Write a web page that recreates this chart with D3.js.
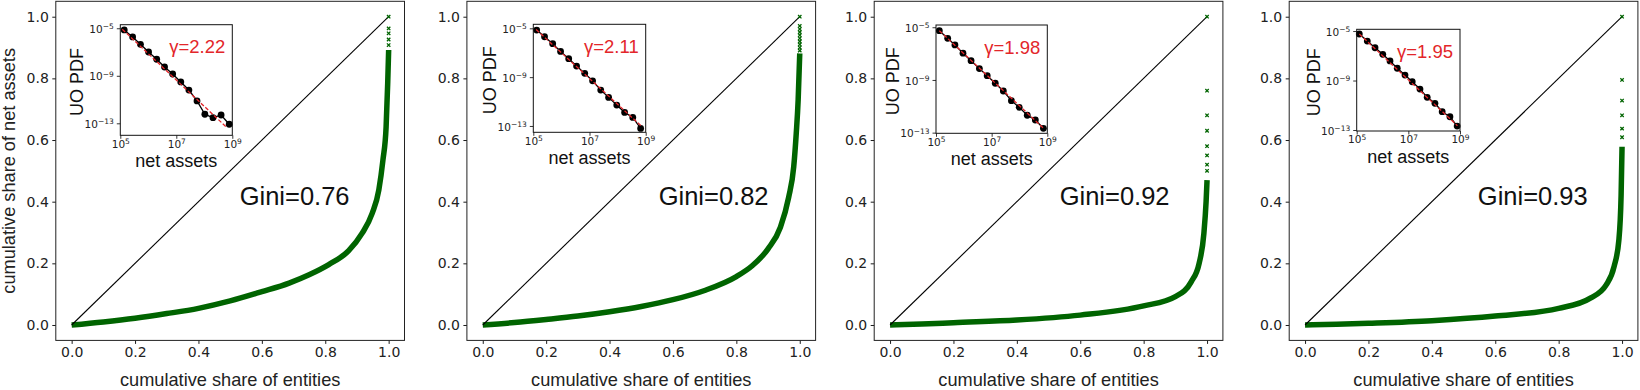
<!DOCTYPE html>
<html><head><meta charset="utf-8">
<script src="https://cdn.jsdelivr.net/npm/d3@7"></script>
<style>body{margin:0;background:#fff} svg{display:block}</style>
</head><body><svg id="c" width="1640" height="390"></svg>
<script>
// ---------------- data ----------------
const giniValues = [0.76, 0.82, 0.92, 0.93];
const gammaValues = [2.22, 2.11, 1.98, 1.95];

// Lorenz curves (cumulative share of entities -> cumulative share of net assets)
const lorenzX1 = [0, 0.1, 0.2, 0.3, 0.4, 0.5, 0.6, 0.686, 0.749, 0.811, 0.874, 0.916, 0.948, 0.969, 0.982, 0.992, 0.997, 1.0];
const lorenzY1 = [0, 0.010, 0.022, 0.037, 0.054, 0.078, 0.108, 0.136, 0.163, 0.196, 0.241, 0.297, 0.362, 0.438, 0.535, 0.643, 0.784, 0.892];
const lorenzX2 = [0, 0.1, 0.2, 0.3, 0.4, 0.5, 0.6, 0.7, 0.8, 0.85, 0.9, 0.939, 0.965, 0.981, 0.989, 0.995, 1.0];
const lorenzY2 = [0, 0.008, 0.018, 0.029, 0.043, 0.060, 0.082, 0.112, 0.157, 0.192, 0.247, 0.317, 0.414, 0.513, 0.622, 0.730, 0.881];
const lorenzX3 = [0, 0.1, 0.2, 0.4, 0.6, 0.8, 0.9, 0.95, 0.975, 0.99, 0.997, 1.0];
const lorenzY3 = [0, 0.003, 0.0075, 0.016, 0.032, 0.062, 0.092, 0.140, 0.200, 0.297, 0.400, 0.470];
const lorenzX4 = [0, 0.1, 0.2, 0.4, 0.6, 0.8, 0.9, 0.95, 0.975, 0.99, 0.997, 1.0];
const lorenzY4 = [0, 0.002, 0.0054, 0.014, 0.029, 0.054, 0.087, 0.130, 0.190, 0.276, 0.420, 0.578];

// isolated top-most entities (all at x = 1)
const topY1 = [0.908, 0.926, 0.946, 0.962, 1.0];
const topY2 = [0.89, 0.90, 0.91, 0.92, 0.93, 0.94, 0.95, 0.96, 0.97, 1.0];
const topY3 = [0.50, 0.52, 0.55, 0.58, 0.63, 0.68, 0.76, 1.0];
const topY4 = [0.609, 0.637, 0.68, 0.728, 0.795, 1.0];

// inset: UO PDF of net assets (log10 values)
const pdfLogX1 = [5.14, 5.44, 5.72, 6.01, 6.30, 6.58, 6.87, 7.16, 7.45, 7.74, 8.02, 8.31, 8.60, 8.89];
const pdfLogY1 = [-5.14, -5.73, -6.35, -7.00, -7.61, -8.26, -8.85, -9.52, -10.20, -11.12, -12.24, -12.53, -12.30, -13.08];
const pdfLogX2 = [5.12, 5.40, 5.69, 5.97, 6.26, 6.54, 6.83, 7.11, 7.40, 7.68, 7.97, 8.25, 8.54, 8.82];
const pdfLogY2 = [-5.14, -5.69, -6.26, -6.89, -7.49, -8.09, -8.69, -9.30, -10.06, -10.66, -11.29, -11.89, -12.30, -13.20];
const pdfLogX3 = [5.12, 5.42, 5.68, 5.97, 6.26, 6.56, 6.84, 7.13, 7.42, 7.71, 7.99, 8.28, 8.57, 8.86];
const pdfLogY3 = [-5.26, -5.84, -6.34, -6.97, -7.54, -8.14, -8.68, -9.25, -9.84, -10.57, -11.08, -11.68, -12.04, -12.67];
const pdfLogX4 = [5.10, 5.41, 5.71, 6.01, 6.29, 6.57, 6.87, 7.15, 7.45, 7.73, 8.03, 8.31, 8.61, 8.89];
const pdfLogY4 = [-5.24, -5.81, -6.35, -6.88, -7.42, -8.01, -8.56, -9.10, -9.69, -10.36, -10.84, -11.52, -11.93, -12.68];

// power-law fit lines (log10 endpoints)
const fitLogX1 = [5.07, 8.81], fitLogY1 = [-5.08, -13.37];
const fitLogX2 = [5.10, 8.85], fitLogY2 = [-5.10, -13.02];
const fitLogX3 = [5.12, 8.88], fitLogY3 = [-5.26, -12.70];
const fitLogX4 = [5.10, 8.90], fitLogY4 = [-5.24, -12.65];

const mainTicks = [0, 0.2, 0.4, 0.6, 0.8, 1.0];
const insetXTicks = [5, 7, 9];     // exponents
const insetYTicks = [-5, -9, -13]; // exponents

const xLabel = "cumulative share of entities";
const yLabel = "cumulative share of net assets";
const insetXLabel = "net assets";
const insetYLabel = "UO PDF";

// ---------------- layout ----------------
const layout = [
  {left: 55.8,  inset: {l: 120.3, t: 24.7, r: 232.3, b: 135.3, ylim: [-14.01, -4.70]}, giniX: 0.53},
  {left: 466.9, inset: {l: 533.3, t: 24.3, r: 645.7, b: 132.3, ylim: [-13.52, -4.67]}, giniX: 0.555},
  {left: 874.2, inset: {l: 936.0, t: 25.0, r: 1047.3, b: 133.3, ylim: [-13.05, -4.83]}, giniX: 0.535},
  {left: 1289.2, inset: {l: 1356.7, t: 29.3, r: 1460.0, b: 131.0, ylim: [-13.08, -4.86]}, giniX: 0.545},
];
const boxW = 348.7, boxTop = 1.3, boxBottom = 340.4;
const GREEN = "#006400", RED = "#e3262a";
const sans = "'Liberation Sans', Arial, sans-serif";
const dejavu = "'DejaVu Sans', sans-serif";

const series = [
  {lx: lorenzX1, ly: lorenzY1, top: topY1, px: pdfLogX1, py: pdfLogY1, fx: fitLogX1, fy: fitLogY1},
  {lx: lorenzX2, ly: lorenzY2, top: topY2, px: pdfLogX2, py: pdfLogY2, fx: fitLogX2, fy: fitLogY2},
  {lx: lorenzX3, ly: lorenzY3, top: topY3, px: pdfLogX3, py: pdfLogY3, fx: fitLogX3, fy: fitLogY3},
  {lx: lorenzX4, ly: lorenzY4, top: topY4, px: pdfLogX4, py: pdfLogY4, fx: fitLogX4, fy: fitLogY4},
];

const svg = d3.select("#c");
const supMinus = v => (v < 0 ? "\u2212" + Math.abs(v) : String(v));

series.forEach((s, i) => {
  const L = layout[i];
  const g = svg.append("g");
  const x = d3.scaleLinear().domain([-0.05, 1.05]).range([L.left, L.left + boxW]);
  const y = d3.scaleLinear().domain([-0.05, 1.05]).range([boxBottom, boxTop]);

  // Lorenz curve band
  const pts = s.lx.map((v, k) => [v, s.ly[k]]);
  g.append("path")
    .attr("d", d3.line().x(d => x(d[0])).y(d => y(d[1])).curve(d3.curveMonotoneX)(pts))
    .attr("fill", "none").attr("stroke", GREEN).attr("stroke-width", 5.5)
    .attr("stroke-linejoin", "round");

  // equality line
  g.append("line")
    .attr("x1", x(0)).attr("y1", y(0)).attr("x2", x(1)).attr("y2", y(1))
    .attr("stroke", "#000").attr("stroke-width", 1.1);

  // isolated top entities (x markers)
  const m = 1.7;
  s.top.forEach(v => {
    const cx = x(1), cy = y(v);
    g.append("path")
      .attr("d", `M${cx - m},${cy - m}L${cx + m},${cy + m}M${cx - m},${cy + m}L${cx + m},${cy - m}`)
      .attr("stroke", GREEN).attr("stroke-width", 1.3).attr("fill", "none");
  });

  // axes
  const xa = g.append("g").attr("transform", `translate(0,${boxBottom})`)
    .call(d3.axisBottom(x).tickValues(mainTicks).tickSize(3.5).tickPadding(3.5).tickFormat(d3.format(".1f")));
  const ya = g.append("g").attr("transform", `translate(${L.left},0)`)
    .call(d3.axisLeft(y).tickValues(mainTicks).tickSize(3.5).tickPadding(3.5).tickFormat(d3.format(".1f")));
  [xa, ya].forEach(a => {
    a.select(".domain").remove();
    a.selectAll("line").attr("stroke", "#000").attr("stroke-width", 0.9);
    a.selectAll("text").attr("font-family", dejavu).attr("font-size", 14).attr("fill", "#222");
  });
  g.append("rect").attr("x", L.left).attr("y", boxTop).attr("width", boxW).attr("height", boxBottom - boxTop)
    .attr("fill", "none").attr("stroke", "#222").attr("stroke-width", 1);

  // axis labels
  g.append("text").attr("x", L.left + boxW / 2).attr("y", 386).attr("text-anchor", "middle")
    .attr("font-family", sans).attr("font-size", 18.2).attr("fill", "#222").text(xLabel);
  if (i === 0) {
    g.append("text").attr("transform", `translate(15,${(boxTop + boxBottom) / 2}) rotate(-90)`)
      .attr("text-anchor", "middle").attr("font-family", sans).attr("font-size", 18.2).attr("fill", "#222").text(yLabel);
  }

  // Gini annotation
  g.append("text").attr("x", x(L.giniX)).attr("y", y(0.39))
    .attr("font-family", sans).attr("font-size", 25.5).attr("fill", "#111")
    .text("Gini=" + giniValues[i].toFixed(2));

  // ---------- inset ----------
  const I = L.inset;
  const ig = svg.append("g");
  const ix = d3.scaleLog().domain([1e5, 1e9]).range([I.l, I.r]);
  const iy = d3.scaleLog().domain([Math.pow(10, I.ylim[0]), Math.pow(10, I.ylim[1])]).range([I.b, I.t]);
  ig.append("rect").attr("x", I.l).attr("y", I.t).attr("width", I.r - I.l).attr("height", I.b - I.t)
    .attr("fill", "#fff");

  const ipts = s.px.map((v, k) => [Math.pow(10, v), Math.pow(10, s.py[k])]);
  ig.append("path").attr("d", d3.line().x(d => ix(d[0])).y(d => iy(d[1]))(ipts))
    .attr("fill", "none").attr("stroke", "#000").attr("stroke-width", 1.3);
  ig.selectAll("circle").data(ipts).join("circle")
    .attr("cx", d => ix(d[0])).attr("cy", d => iy(d[1])).attr("r", 3.4).attr("fill", "#000");
  const fpts = s.fx.map((v, k) => [Math.pow(10, v), Math.pow(10, s.fy[k])]);
  ig.append("path").attr("d", d3.line().x(d => ix(d[0])).y(d => iy(d[1]))(fpts))
    .attr("fill", "none").attr("stroke", RED).attr("stroke-width", 1.3).attr("stroke-dasharray", "4,2");

  const ixa = ig.append("g").attr("transform", `translate(0,${I.b})`)
    .call(d3.axisBottom(ix).tickValues(insetXTicks.map(e => Math.pow(10, e))).tickSize(3.5).tickPadding(2.5).tickFormat(""));
  const iya = ig.append("g").attr("transform", `translate(${I.l},0)`)
    .call(d3.axisLeft(iy).tickValues(insetYTicks.map(e => Math.pow(10, e))).tickSize(3.5).tickPadding(3).tickFormat(""));
  [ixa, iya].forEach(a => {
    a.select(".domain").remove();
    a.selectAll("line").attr("stroke", "#000").attr("stroke-width", 0.8);
  });
  ixa.selectAll("text").each(function (d, k) {
    const t = d3.select(this).attr("font-family", dejavu).attr("font-size", 10.5).attr("fill", "#222")
      .attr("dy", "0.6em");
    t.text("10");
    t.append("tspan").attr("dy", "-0.5em").attr("font-size", 7.5).text(supMinus(insetXTicks[k]));
  });
  iya.selectAll("text").each(function (d, k) {
    const t = d3.select(this).attr("font-family", dejavu).attr("font-size", 10.5).attr("fill", "#222")
      .attr("dy", "0.4em");
    t.text("10");
    t.append("tspan").attr("dy", "-0.5em").attr("font-size", 7.5).text(supMinus(insetYTicks[k]));
  });
  ig.append("rect").attr("x", I.l).attr("y", I.t).attr("width", I.r - I.l).attr("height", I.b - I.t)
    .attr("fill", "none").attr("stroke", "#111").attr("stroke-width", 1);

  ig.append("text").attr("x", (I.l + I.r) / 2).attr("y", I.b + 31.5).attr("text-anchor", "middle")
    .attr("font-family", sans).attr("font-size", 18).attr("fill", "#111").text(insetXLabel);
  ig.append("text").attr("transform", `translate(${I.l - 37},${(I.t + I.b) / 2 + 2}) rotate(-90)`)
    .attr("text-anchor", "middle").attr("font-family", sans).attr("font-size", 18).attr("fill", "#111").text(insetYLabel);
  ig.append("text").attr("x", I.r - 7).attr("y", I.t + 28.5).attr("text-anchor", "end")
    .attr("font-family", sans).attr("font-size", 18.5).attr("fill", RED)
    .text("\u03b3=" + gammaValues[i].toFixed(2));
});
</script>
</body></html>
